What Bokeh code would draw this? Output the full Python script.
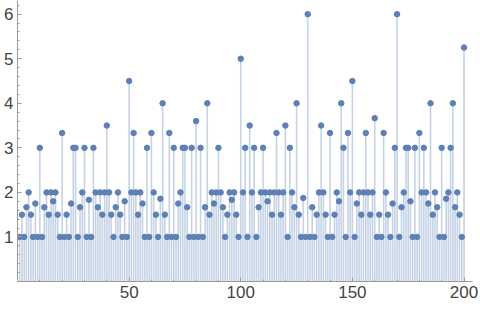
from bokeh.plotting import figure
from bokeh.models import FixedTicker, Range1d, ColumnDataSource
from bokeh.embed import file_html
from bokeh.resources import INLINE

n_values = list(range(1, 201))
ratios = [
    1, 1.5, 1, 1.6667, 2, 1.5, 1, 1.75, 1, 3,
    1, 1.6667, 2, 1.5, 2, 1.8, 2, 1.5, 1, 3.3333,
    1, 1.5, 1, 1.75, 3, 3, 1, 1.6667, 2, 3,
    1, 1.8333, 1, 3, 2, 1.6667, 2, 1.5, 2, 3.5,
    2, 1.5, 1, 1.6667, 2, 1.5, 1, 1.8, 1, 4.5,
    2, 3.3333, 2, 1.5, 2, 1.75, 1, 3, 1, 3.3333,
    2, 1.5, 1, 1.8571, 4, 1.5, 1, 3.3333, 1, 3,
    1, 1.75, 2, 3, 3, 1.6667, 1, 3, 1, 3.6,
    1, 3, 1, 1.6667, 4, 1.5, 2, 1.75, 2, 3,
    2, 1.6667, 1, 1.5, 2, 1.8333, 2, 1.5, 1, 5,
    2, 3, 1, 3.5, 2, 3, 1, 1.6667, 2, 3,
    2, 1.8, 2, 1.5, 2, 3.3333, 2, 1.5, 2, 3.5,
    1, 3, 2, 1.6667, 4, 1.5, 1, 1.875, 1, 6,
    1, 1.6667, 1, 1.5, 2, 3.5, 2, 1.5, 1, 3.3333,
    1, 1.5, 2, 1.8, 4, 3, 1, 3.3333, 2, 4.5,
    1, 1.75, 2, 1.5, 2, 3.3333, 2, 1.5, 2, 3.6667,
    1, 1.5, 1, 3.3333, 2, 1.5, 1, 1.75, 3, 6,
    1, 1.6667, 2, 3, 3, 1.8, 1, 3, 1, 3.3333,
    2, 3, 2, 1.75, 4, 1.5, 2, 1.6667, 1, 3,
    1, 1.8571, 2, 3, 4, 1.6667, 2, 1.5, 1, 5.25,
]
x_ticks = [50, 100, 150, 200]
y_ticks = [1, 2, 3, 4, 5, 6]

src = ColumnDataSource(dict(n=n_values, r=ratios, z=[0] * len(n_values)))

p = figure(width=480, height=312, output_backend="svg", toolbar_location=None,
           x_range=Range1d(0, 203.8), y_range=Range1d(0, 6.307),
           min_border_left=17, min_border_right=8, min_border_top=0,
           min_border_bottom=31)
p.outline_line_color = None
p.grid.visible = False
p.background_fill_color = "white"

p.segment(x0="n", y0="z", x1="n", y1="r", source=src,
          line_color="#c6d3e7", line_width=1.6)
p.scatter(x="n", y="r", source=src, size=5.5, fill_color="#5e81b5",
          line_color="#5e81b5")

minor_x = [v for v in range(10, 201, 10) if v not in x_ticks]
minor_y = [round(0.2 * i, 1) for i in range(1, 32) if i % 5 != 0]

for ax, ticks, minors in ((p.xaxis[0], x_ticks, minor_x), (p.yaxis[0], y_ticks, minor_y)):
    ax.ticker = FixedTicker(ticks=ticks, minor_ticks=minors)
    ax.axis_line_color = "#9a9a9a"
    ax.major_tick_line_color = "#9a9a9a"
    ax.minor_tick_line_color = "#9a9a9a"
    ax.major_tick_in = 4
    ax.major_tick_out = 0
    ax.minor_tick_in = 2
    ax.minor_tick_out = 0
    ax.major_label_text_font = "Liberation Sans"
    ax.major_label_text_font_size = "17px"
    ax.major_label_text_color = "#444444"
    ax.major_label_standoff = 4

open("out.html", "w").write(file_html(p, INLINE))
